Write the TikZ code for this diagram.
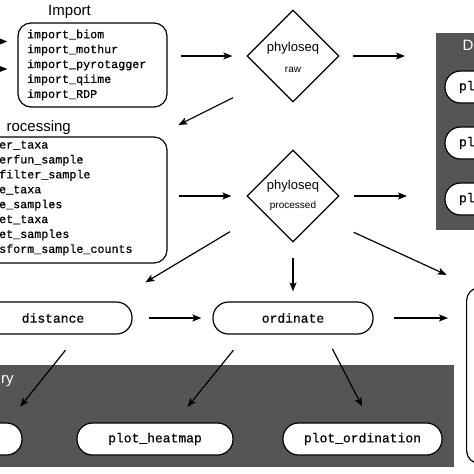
\documentclass[tikz,border=0pt]{standalone}
\usepackage{fontspec}
\setmainfont{Liberation Sans}
\setmonofont[FakeBold=0.6]{Liberation Mono}
\usetikzlibrary{shapes.geometric,arrows.meta}
\definecolor{panelgray}{HTML}{555555}
\tikzset{
box/.style={draw,line width=1.2pt,rounded corners=13pt,inner sep=0pt},
pill/.style={draw,fill=white,line width=1.2pt,rounded corners=15.5pt,minimum width=158pt,minimum height=32pt,inner sep=0pt,font=\fontsize{13}{15}\selectfont\ttfamily},
dia/.style={draw,diamond,line width=1.2pt,minimum width=92pt,minimum height=92pt,inner sep=0pt},
arr/.style={line width=1.2pt,-{Stealth[length=9pt,width=7pt,inset=2pt]}},
ttl/.style={font=\fontsize{15}{18}\selectfont,inner sep=0pt},
lst/.style={font=\fontsize{11.7}{14.9}\selectfont\ttfamily,align=left},
panel/.style={fill=panelgray,anchor=north west,inner sep=0pt}
}
\begin{document}
\begin{tikzpicture}[x=1pt,y=-1pt]
\useasboundingbox (0,0) rectangle (474,474);
\clip (0,0) rectangle (474,474);
% dark panels
\node[panel,minimum width=100pt,minimum height=197pt] (dpanel) at (436,33) {};
\node[panel,minimum width=480pt,minimum height=102pt] (gpanel) at (-26,365) {};
\node[ttl,anchor=base west,text=white] (dtitle) at (462.5,50) {D};
\node[ttl,anchor=base west,text=white] (gtitle) at (1,383) {ry};
\foreach \n/\y in {p1/87,p2/143,p3/199}{
	\node[pill,text width=130pt,inner xsep=14pt,align=left] (\n) at (524,\y) {pl};
}

% import and preprocessing
\node[ttl,anchor=base] (imptitle) at (69.5,15) {Import};
\node[box,lst,minimum width=149pt,minimum height=84pt,text width=131pt] (import) at (92.5,65) {import\_biom\\import\_mothur\\import\_pyrotagger\\import\_qiime\\import\_RDP};
\coordinate (src1) at (-40,41.5);
\coordinate (src2) at (-40,69);
\draw[arr,shorten >=10pt] (src1) -- (import.west |- src1);
\draw[arr,shorten >=10pt] (src2) -- (import.west |- src2);
\node[ttl,anchor=base east] (pretitle) at (71,131) {rocessing};
\node[box,minimum width=205pt,minimum height=126pt] (pre) at (64.5,200) {};
\node[lst,anchor=west,inner sep=0pt] (prelist) at (-1,198) {er\_taxa\\erfun\_sample\\filter\_sample\\e\_taxa\\e\_samples\\et\_taxa\\et\_samples\\sform\_sample\_counts};

% phyloseq objects
\node[dia] (raw) at (293,56) {};
\node[font=\fontsize{13}{15}\selectfont,inner sep=0pt] (rawname) at ([yshift=8pt]raw.center) {phyloseq};
\node[font=\fontsize{10}{12}\selectfont,inner sep=0pt] (rawtag) at ([yshift=-13.5pt]raw.center) {raw};
\node[dia] (proc) at (293,196) {};
\node[font=\fontsize{13}{15}\selectfont,inner sep=0pt] (procname) at ([yshift=10pt]proc.center) {phyloseq};
\node[font=\fontsize{10}{12}\selectfont,inner sep=0pt] (proctag) at ([yshift=-10pt]proc.center) {processed};

% analysis
\node[pill] (dist) at (53,318) {distance};
\node[pill,minimum width=160pt] (ord) at (293,318) {ordinate};
\node[box,anchor=north west,minimum width=120pt,minimum height=176pt] (rbox) at (466,287) {};
\node[pill,minimum width=157pt] (pnet) at (-56.5,439) {};
\node[pill,minimum width=156pt] (heat) at (155,439) {plot\_heatmap};
\node[pill,minimum width=159pt] (pord) at (362.5,439) {plot\_ordination};

\draw[arr,shorten <=13pt,shorten >=14pt] (import.east |- raw) -- (raw.west);
\draw[arr,shorten <=13pt,shorten >=31pt] (raw.east) -- (dpanel.west |- raw);
\draw[arr,shorten <=41pt,shorten >=12pt] (raw.south west) -- ([yshift=6pt]pre.north east);
\draw[arr,shorten <=11pt,shorten >=15pt] (pre.east |- proc) -- (proc.west);
\draw[arr,shorten <=14pt,shorten >=29pt] (proc.east) -- (dpanel.west |- proc);
\draw[arr,shorten <=38pt,shorten >=37pt] (proc.208) -- ([xshift=-19pt]dist.north east);
\draw[arr,shorten <=15pt,shorten >=10pt] (proc.south) -- (ord.north);
\draw[arr,shorten <=38pt,shorten >=29pt] (proc.322) -- ([xshift=7pt]rbox.north west);
\draw[arr,shorten <=16pt,shorten >=11pt] (dist.east) -- (ord.west);
\draw[arr,shorten <=20pt,shorten >=18pt] (ord.east) -- (rbox.west |- ord);
\draw[arr,shorten <=20pt,shorten >=20pt] ([xshift=25pt]dist.south) -- ([xshift=-15pt]pnet.north east);
\draw[arr,shorten <=20pt,shorten >=20pt] ([xshift=-47pt]ord.south) -- ([xshift=20pt]heat.north);
\draw[arr,shorten <=16pt,shorten >=18pt] ([xshift=32pt]ord.south) -- ([xshift=8pt]pord.north);
\end{tikzpicture}
\end{document}
